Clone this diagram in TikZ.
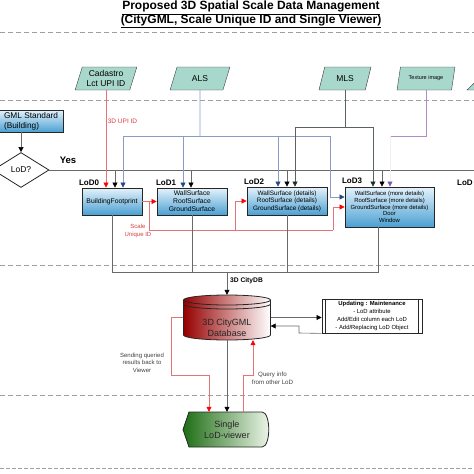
\documentclass[tikz,border=0pt]{standalone}
\usepackage{fontspec}
\setmainfont{Liberation Sans}
\usetikzlibrary{shapes.geometric,arrows.meta,calc}

\definecolor{datafill}{RGB}{168,216,204}
\definecolor{boxtop}{RGB}{228,242,251}
\definecolor{boxbot}{RGB}{75,160,210}
\definecolor{lnred}{RGB}{226,115,120}
\definecolor{txtred}{RGB}{215,60,60}
\definecolor{lnblue}{RGB}{140,155,195}
\definecolor{tipblue}{RGB}{40,70,130}
\definecolor{lngray}{RGB}{105,105,105}
\definecolor{lnmls}{RGB}{90,100,95}
\definecolor{tipmls}{RGB}{20,50,35}
\definecolor{lntex}{RGB}{175,140,200}
\definecolor{tiptex}{RGB}{120,90,170}
\definecolor{dbdark}{RGB}{150,0,0}
\definecolor{dbmid}{RGB}{215,40,45}
\definecolor{vwdark}{RGB}{30,110,20}
\definecolor{vwmid}{RGB}{120,185,80}
\definecolor{vwlight}{RGB}{240,247,236}

\begin{document}
\begin{tikzpicture}[x=1pt, y=-1pt,
	sep/.style={gray!75, dash pattern=on 5pt off 3pt, line width=0.7pt},
	datain/.style={trapezium, trapezium left angle=71, trapezium right angle=109, trapezium stretches=true, draw=black!75, fill=datafill, minimum height=23pt, inner sep=1pt, align=center, font=\fontsize{8.5}{9.5}\selectfont},
	lodbox/.style={draw=black!85, line width=0.8pt, top color=boxtop, bottom color=boxbot, align=center, inner sep=1pt},
	lodlab/.style={font=\bfseries\fontsize{8}{9}\selectfont},
	redline/.style={draw=lnred, line width=0.6pt},
	blueline/.style={draw=lnblue, line width=0.6pt},
	gryline/.style={draw=lngray, line width=0.6pt},
	mlsline/.style={draw=lnmls, line width=0.6pt},
	texline/.style={draw=lntex, line width=0.6pt},
	redtip/.style={-{Triangle[length=5pt, width=5pt, color=red]}},
	bluetip/.style={-{Triangle[length=5pt, width=5pt, color=tipblue]}},
	blktip/.style={-{Triangle[length=5pt, width=5pt, color=black]}},
	mlstip/.style={-{Triangle[length=5pt, width=5pt, color=tipmls]}},
	textip/.style={-{Triangle[length=5pt, width=5pt, color=tiptex]}}]

	\useasboundingbox (0,0) rectangle (474,474);

	\foreach \y in {32, 100, 265, 395}
		\draw[sep] (0,\y) -- (474,\y);
	\draw[sep, dash pattern=on 4pt off 2pt, line width=1pt] (0,468) -- (474,468);

	\node[font=\bfseries\fontsize{12}{13.5}\selectfont, align=center] (title) at (251,14.5) {\underline{Proposed 3D Spatial Scale Data Management}\\\underline{(CityGML, Scale Unique ID and Single Viewer)}};

	% data sources
	\node[datain, minimum width=62pt] (cad) at (106,78.5) {Cadastro\\Lct UPI ID};
	\node[datain, minimum width=60pt] (als) at (200,78.5) {ALS};
	\node[datain, minimum width=52pt] (mls) at (345,78.5) {MLS};
	\node[datain, minimum width=58pt, font=\fontsize{5.5}{6}\selectfont] (tex) at (426,78.5) {Texture image};
	\node[datain, minimum width=60pt] (nxt) at (497,78.5) {\strut};

	\node[lodbox, minimum width=84pt, minimum height=22pt] (gml) at (21,121) {};
	\node[anchor=west, align=left, font=\fontsize{8.3}{10}\selectfont] (gmltxt) at (0.5,121) {GML Standard\\(Building)};

	\node[diamond, draw=black!85, line width=0.8pt, aspect=1.6, minimum width=56pt, minimum height=35pt, inner sep=0pt, font=\fontsize{8.5}{9}\selectfont] (lod) at (21,170) {LoD?};
	\draw[gryline, blktip] (lod.north |- gml.south) -- (lod.north);
	\coordinate (busend) at (474,170);
	\draw[gryline] (lod.east) -- (busend);
	\node[font=\bfseries\fontsize{9.5}{10}\selectfont] (yes) at (68,160) {Yes};

	% levels of detail
	\node[lodbox, minimum width=60pt, minimum height=27pt, font=\fontsize{6.8}{8}\selectfont] (lod0) at (112,201.5) {BuildingFootprint};
	\node[lodbox, minimum width=70pt, minimum height=27pt, font=\fontsize{6.8}{8}\selectfont] (lod1) at (192,201.5) {WallSurface\\RoofSurface\\GroundSurface};
	\node[lodbox, minimum width=80pt, minimum height=28pt, font=\fontsize{6.4}{7.5}\selectfont] (lod2) at (287,201) {WallSurface (details)\\RoofSurface (details)\\GroundSurface (details)};
	\node[lodbox, minimum width=89pt, minimum height=40pt, font=\fontsize{5.9}{6.7}\selectfont] (lod3) at (389.5,207) {WallSurface (more details)\\RoofSurface (more details)\\GroundSurface (more details)\\Door\\Window};
	\node[lodlab] (l0) at (89,183) {LoD0};
	\node[lodlab] (l1) at (166,183) {LoD1};
	\node[lodlab] (l2) at (254,182) {LoD2};
	\node[lodlab] (l3) at (352,181) {LoD3};
	\node[lodlab, anchor=west, inner sep=0pt] (l4) at (457,183) {LoD};

	\draw[redline, redtip] (cad.south) -- (cad.south |- lod0.north);
	\node[text=txtred, font=\fontsize{6.5}{7}\selectfont] (upi) at (122.5,121) {3D UPI ID};

	\coordinate (alsbus) at (200,136);
	\coordinate (a3) at (330,197);
	\draw[blueline] (als.south) -- (alsbus);
	\draw[blueline, bluetip] (alsbus) -| ([xshift=11pt]lod0.north);
	\draw[blueline, bluetip] (alsbus) -| ([xshift=-9pt]lod1.north);
	\draw[blueline, bluetip] (alsbus) -| ([xshift=-9pt]lod2.north);
	\draw[blueline, bluetip] (alsbus) -| (a3) -- (a3 -| lod3.west);

	\foreach \lodn/\xk in {lod0/115, lod1/191, lod2/287, lod3/382} {
		\coordinate (k) at (\xk,170);
		\draw[gryline, blktip] (k) -- (k |- \lodn.north);
	}

	\coordinate (m2) at (295,127);
	\coordinate (m3) at (373,127);
	\draw[mlsline] (mls.south) -- (mls.south |- m2);
	\draw[mlsline] (m2) -- (m3);
	\draw[mlsline, mlstip] (m2) -- (m2 |- lod2.north);
	\draw[mlsline, mlstip] (m3) -- (m3 |- lod3.north);

	\coordinate (t3) at (390,136);
	\draw[texline] (tex.south) |- (t3);
	\draw[texline, draw=lntex!15, textip] (t3) -- (t3 |- lod3.north);

	\coordinate (r0) at (149,230);
	\coordinate (r2) at (235,230);
	\coordinate (r3) at (333,230);
	\draw[redline, redtip] (lod0.east) -- (lod1.west);
	\draw[redline] (r0 |- lod0.east) -- (r0) -- (r3);
	\draw[redline, redtip] (r2) |- (lod2.west);
	\draw[redline, redtip] (r3) |- (lod3.west);
	\node[text=txtred, font=\fontsize{6}{7.5}\selectfont, align=center] (scl) at (138,231) {Scale\\Unique ID};

	% database
	\shade[left color=dbdark, middle color=dbmid, right color=white, draw=black!85, line width=0.8pt] (183.5,300) -- (183.5,335) arc[start angle=180, end angle=360, x radius=43.5pt, y radius=5pt] -- (270.5,300) arc[start angle=0, end angle=180, x radius=43.5pt, y radius=5pt] -- cycle;
	\draw[black!85, line width=0.8pt] (183.5,300) arc[start angle=180, end angle=360, x radius=43.5pt, y radius=5pt];
	\draw[black!85, line width=0.8pt] (183.5,304) arc[start angle=180, end angle=360, x radius=43.5pt, y radius=5pt];
	\node[minimum width=87pt, minimum height=45pt, inner sep=0pt] (db) at (227,317.5) {};
	\node[font=\fontsize{9}{11}\selectfont, text=black!85, align=center] (dbtxt) at (227,327.5) {3D CityGML\\Database};

	\coordinate (d3) at (378,272);
	\coordinate (dbin) at (227,272);
	\draw[gryline] (lod0.south) |- (d3) -- (d3 |- lod3.south);
	\draw[gryline] (lod1.south) -- (lod1.south |- d3);
	\draw[gryline] (lod2.south) -- (lod2.south |- d3);
	\draw[gryline, blktip] (dbin) -- (db.north);
	\node[font=\bfseries\fontsize{6.7}{7}\selectfont] (cdb) at (246.5,281) {3D CityDB};

	\node[draw=black!85, line width=0.8pt, fill=white, minimum width=100pt, minimum height=34pt, inner sep=1pt, align=center, font=\fontsize{5.9}{7.7}\selectfont] (upd) at (372,316) {\textbf{Updating : Maintenance}\\- LoD attribute\\Add/Edit column each LoD\\- Add/Replacing LoD Object};
	\draw[black!85, line width=0.8pt] ([xshift=4pt]upd.north west) -- ([xshift=4pt]upd.south west);
	\draw[black!85, line width=0.8pt] ([xshift=-4pt]upd.north east) -- ([xshift=-4pt]upd.south east);

	\coordinate (u1) at (299,333);
	\coordinate (u2) at (299,326);
	\draw[gryline, blktip] (db.east) -- (db.east -| upd.west);
	\draw[gryline, blktip] (upd.south west) -- (u1) -- (u2) -- (u2 -| db.east);

	% viewer
	\shade[left color=vwdark, middle color=vwmid, right color=vwlight, draw=black!85, line width=0.8pt] (183,429.5) -- (189,412) -- (262,412) .. controls (271,412) and (271,447) .. (262,447) -- (189,447) -- cycle;
	\node[minimum width=84pt, minimum height=35pt, inner sep=0pt, align=center, font=\fontsize{9}{11}\selectfont, text=black!85] (viewer) at (227,429.5) {Single\\LoD-viewer};

	\coordinate (s2) at (171,375);
	\coordinate (s3) at (209,375);
	\draw[redline, redtip] (db.west) -| (s2) -- (s3) -- (s3 |- viewer.north);
	\node[text=black!75, font=\fontsize{6}{7.5}\selectfont, align=center] (snd) at (142,362.5) {Sending queried\\results back to\\Viewer};

	\draw[gryline, blktip] (db.south) -- (viewer.north);

	\coordinate (q1) at (243,375);
	\coordinate (q2) at (253,375);
	\draw[redline, redtip] (q1 |- viewer.north) -- (q1) -- (q2) -- (q2 |- db.south);
	\node[text=black!75, font=\fontsize{6.2}{8}\selectfont, align=center] (qry) at (272.5,378) {Query info\\from other LoD};

\end{tikzpicture}
\end{document}
